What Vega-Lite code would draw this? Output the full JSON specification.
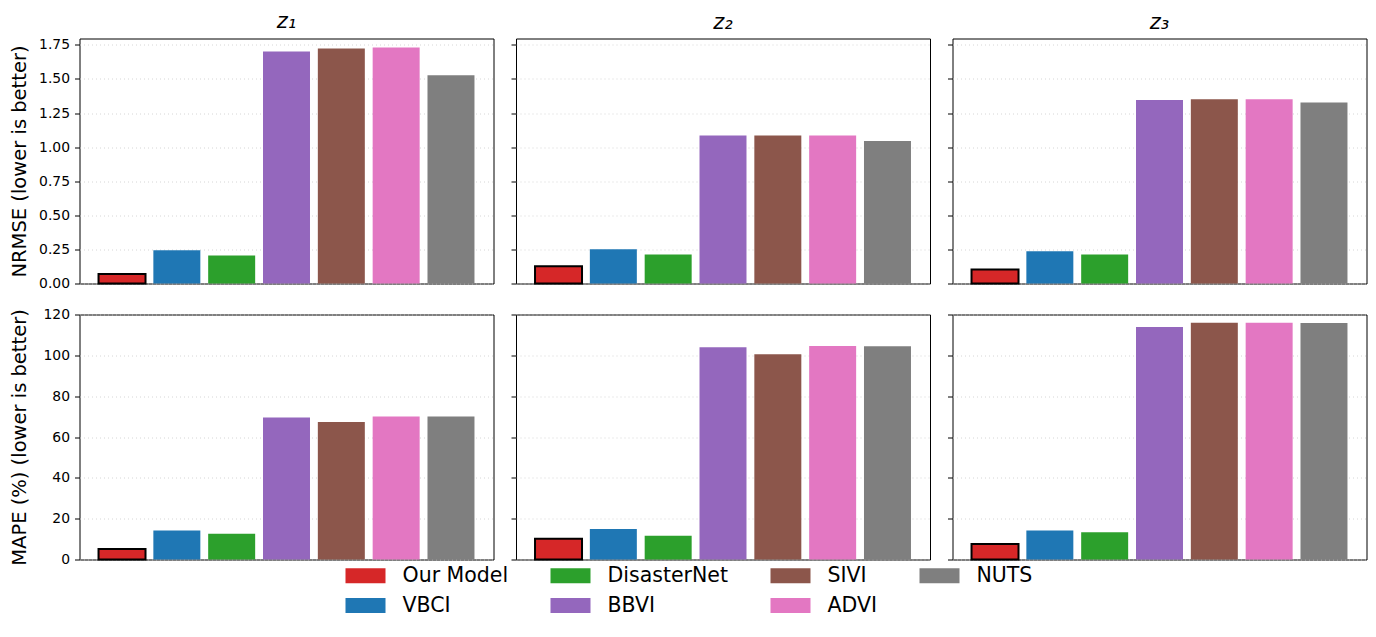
{
  "$schema": "https://vega.github.io/schema/vega-lite/v6.json",
  "padding": {"left": 8.5, "top": 9.5, "right": 5, "bottom": 5},
  "datasets": {
    "results": [
      {"variable": "z1", "method": "Our Model", "nrmse": 0.070, "mape": 5.2},
      {"variable": "z1", "method": "VBCI", "nrmse": 0.244, "mape": 14.2},
      {"variable": "z1", "method": "DisasterNet", "nrmse": 0.205, "mape": 12.6},
      {"variable": "z1", "method": "BBVI", "nrmse": 1.702, "mape": 69.6},
      {"variable": "z1", "method": "SIVI", "nrmse": 1.724, "mape": 67.4},
      {"variable": "z1", "method": "ADVI", "nrmse": 1.731, "mape": 70.0},
      {"variable": "z1", "method": "NUTS", "nrmse": 1.528, "mape": 70.0},
      {"variable": "z2", "method": "Our Model", "nrmse": 0.127, "mape": 10.2},
      {"variable": "z2", "method": "VBCI", "nrmse": 0.252, "mape": 14.9},
      {"variable": "z2", "method": "DisasterNet", "nrmse": 0.213, "mape": 11.6},
      {"variable": "z2", "method": "BBVI", "nrmse": 1.086, "mape": 103.9},
      {"variable": "z2", "method": "SIVI", "nrmse": 1.086, "mape": 100.5},
      {"variable": "z2", "method": "ADVI", "nrmse": 1.086, "mape": 104.6},
      {"variable": "z2", "method": "NUTS", "nrmse": 1.046, "mape": 104.4},
      {"variable": "z3", "method": "Our Model", "nrmse": 0.103, "mape": 7.6},
      {"variable": "z3", "method": "VBCI", "nrmse": 0.237, "mape": 14.2},
      {"variable": "z3", "method": "DisasterNet", "nrmse": 0.213, "mape": 13.3},
      {"variable": "z3", "method": "BBVI", "nrmse": 1.345, "mape": 113.9},
      {"variable": "z3", "method": "SIVI", "nrmse": 1.352, "mape": 116.0},
      {"variable": "z3", "method": "ADVI", "nrmse": 1.352, "mape": 116.0},
      {"variable": "z3", "method": "NUTS", "nrmse": 1.328, "mape": 115.8}
    ]
  },
  "data": {"name": "results"},
  "spacing": 15,
  "vconcat": [
    {
      "spacing": 15.5,
      "hconcat": [
        {
          "width": 414, "height": 245,
          "title": {"text": "z₁"},
          "transform": [{"filter": "datum.variable === 'z1'"}],
          "mark": {"type": "bar"},
          "encoding": {
            "x": {"field": "method", "type": "nominal", "axis": null,
                  "scale": {"domain": ["Our Model","VBCI","DisasterNet","BBVI","SIVI","ADVI","NUTS"], "paddingInner": 0.143, "paddingOuter": 0.347}},
            "y": {"field": "nrmse", "type": "quantitative",
                  "scale": {"domain": [0, 1.797], "nice": false, "zero": true},
                  "axis": {"title": "NRMSE (lower is better)", "values": [0,0.25,0.5,0.75,1,1.25,1.5,1.75], "format": ".2f"}},
            "color": {"field": "method", "type": "nominal"},
            "stroke": {"condition": {"test": "datum.method === 'Our Model'", "value": "black"}, "value": null}
          }
        },
        {
          "width": 414, "height": 245,
          "title": {"text": "z₂"},
          "transform": [{"filter": "datum.variable === 'z2'"}],
          "mark": {"type": "bar"},
          "encoding": {
            "x": {"field": "method", "type": "nominal", "axis": null,
                  "scale": {"domain": ["Our Model","VBCI","DisasterNet","BBVI","SIVI","ADVI","NUTS"], "paddingInner": 0.143, "paddingOuter": 0.347}},
            "y": {"field": "nrmse", "type": "quantitative",
                  "scale": {"domain": [0, 1.797], "nice": false, "zero": true},
                  "axis": {"title": null, "labels": false, "values": [0,0.25,0.5,0.75,1,1.25,1.5,1.75], "minExtent": 0, "maxExtent": 5}},
            "color": {"field": "method", "type": "nominal"},
            "stroke": {"condition": {"test": "datum.method === 'Our Model'", "value": "black"}, "value": null}
          }
        },
        {
          "width": 414, "height": 245,
          "title": {"text": "z₃"},
          "transform": [{"filter": "datum.variable === 'z3'"}],
          "mark": {"type": "bar"},
          "encoding": {
            "x": {"field": "method", "type": "nominal", "axis": null,
                  "scale": {"domain": ["Our Model","VBCI","DisasterNet","BBVI","SIVI","ADVI","NUTS"], "paddingInner": 0.143, "paddingOuter": 0.347}},
            "y": {"field": "nrmse", "type": "quantitative",
                  "scale": {"domain": [0, 1.797], "nice": false, "zero": true},
                  "axis": {"title": null, "labels": false, "values": [0,0.25,0.5,0.75,1,1.25,1.5,1.75], "minExtent": 0, "maxExtent": 5}},
            "color": {"field": "method", "type": "nominal"},
            "stroke": {"condition": {"test": "datum.method === 'Our Model'", "value": "black"}, "value": null}
          }
        }
      ]
    },
    {
      "spacing": 15.5,
      "hconcat": [
        {
          "width": 414, "height": 245,
          "transform": [{"filter": "datum.variable === 'z1'"}],
          "mark": {"type": "bar"},
          "encoding": {
            "x": {"field": "method", "type": "nominal", "axis": null,
                  "scale": {"domain": ["Our Model","VBCI","DisasterNet","BBVI","SIVI","ADVI","NUTS"], "paddingInner": 0.143, "paddingOuter": 0.347}},
            "y": {"field": "mape", "type": "quantitative",
                  "scale": {"domain": [0, 120], "nice": false},
                  "axis": {"title": "MAPE (%) (lower is better)", "values": [0,20,40,60,80,100,120]}},
            "color": {"field": "method", "type": "nominal"},
            "stroke": {"condition": {"test": "datum.method === 'Our Model'", "value": "black"}, "value": null}
          }
        },
        {
          "width": 414, "height": 245,
          "transform": [{"filter": "datum.variable === 'z2'"}],
          "mark": {"type": "bar"},
          "encoding": {
            "x": {"field": "method", "type": "nominal", "axis": null,
                  "scale": {"domain": ["Our Model","VBCI","DisasterNet","BBVI","SIVI","ADVI","NUTS"], "paddingInner": 0.143, "paddingOuter": 0.347}},
            "y": {"field": "mape", "type": "quantitative",
                  "scale": {"domain": [0, 120], "nice": false},
                  "axis": {"title": null, "labels": false, "values": [0,20,40,60,80,100,120], "minExtent": 0, "maxExtent": 5}},
            "color": {"field": "method", "type": "nominal"},
            "stroke": {"condition": {"test": "datum.method === 'Our Model'", "value": "black"}, "value": null}
          }
        },
        {
          "width": 414, "height": 245,
          "transform": [{"filter": "datum.variable === 'z3'"}],
          "mark": {"type": "bar"},
          "encoding": {
            "x": {"field": "method", "type": "nominal", "axis": null,
                  "scale": {"domain": ["Our Model","VBCI","DisasterNet","BBVI","SIVI","ADVI","NUTS"], "paddingInner": 0.143, "paddingOuter": 0.347}},
            "y": {"field": "mape", "type": "quantitative",
                  "scale": {"domain": [0, 120], "nice": false},
                  "axis": {"title": null, "labels": false, "values": [0,20,40,60,80,100,120], "minExtent": 0, "maxExtent": 5}},
            "color": {"field": "method", "type": "nominal",
                      "scale": {"domain": ["Our Model","VBCI","DisasterNet","BBVI","SIVI","ADVI","NUTS"],
                                "range": ["#d62728","#1f77b4","#2ca02c","#9467bd","#8c564b","#e377c2","#7f7f7f"]},
                      "legend": {
                        "orient": "none", "legendX": 275, "legendY": 526, "title": null, "columns": 4,
                        "symbolType": "M-2,-0.75H2V0.75H-2Z", "symbolSize": 400,
                        "labelFontSize": 20.5, "labelOffset": 26, "columnPadding": 42, "rowPadding": 8,
                        "symbolOpacity": 1,
                        "encode": {"symbols": {"update": {
                          "stroke": {"signal": "datum.label === 'Our Model' ? 'black' : 'transparent'"},
                          "strokeWidth": {"value": 2}
                        }}}
                      }},
            "stroke": {"condition": {"test": "datum.method === 'Our Model'", "value": "black"}, "value": null}
          }
        }
      ]
    }
  ],
  "config": {
    "font": "DejaVu Sans",
    "view": {"stroke": "black", "strokeWidth": 1},
    "bar": {"strokeWidth": 2},
    "title": {"fontSize": 21, "fontWeight": "normal", "fontStyle": "italic", "offset": 6, "color": "black", "font": "DejaVu Sans"},
    "axisY": {
      "grid": true, "gridDash": [1, 3], "gridColor": "#cccccc", "gridWidth": 0.8,
      "domain": false, "tickColor": "black", "tickSize": 5, "tickWidth": 1,
      "labelFontSize": 13.9, "labelColor": "black", "labelPadding": 5,
      "titleFontSize": 19.5, "titleFontWeight": "normal", "titleColor": "black", "titlePadding": 9,
      "minExtent": 41, "maxExtent": 41
    },
    "legend": {"labelColor": "black", "labelFont": "DejaVu Sans"}
  }
}
